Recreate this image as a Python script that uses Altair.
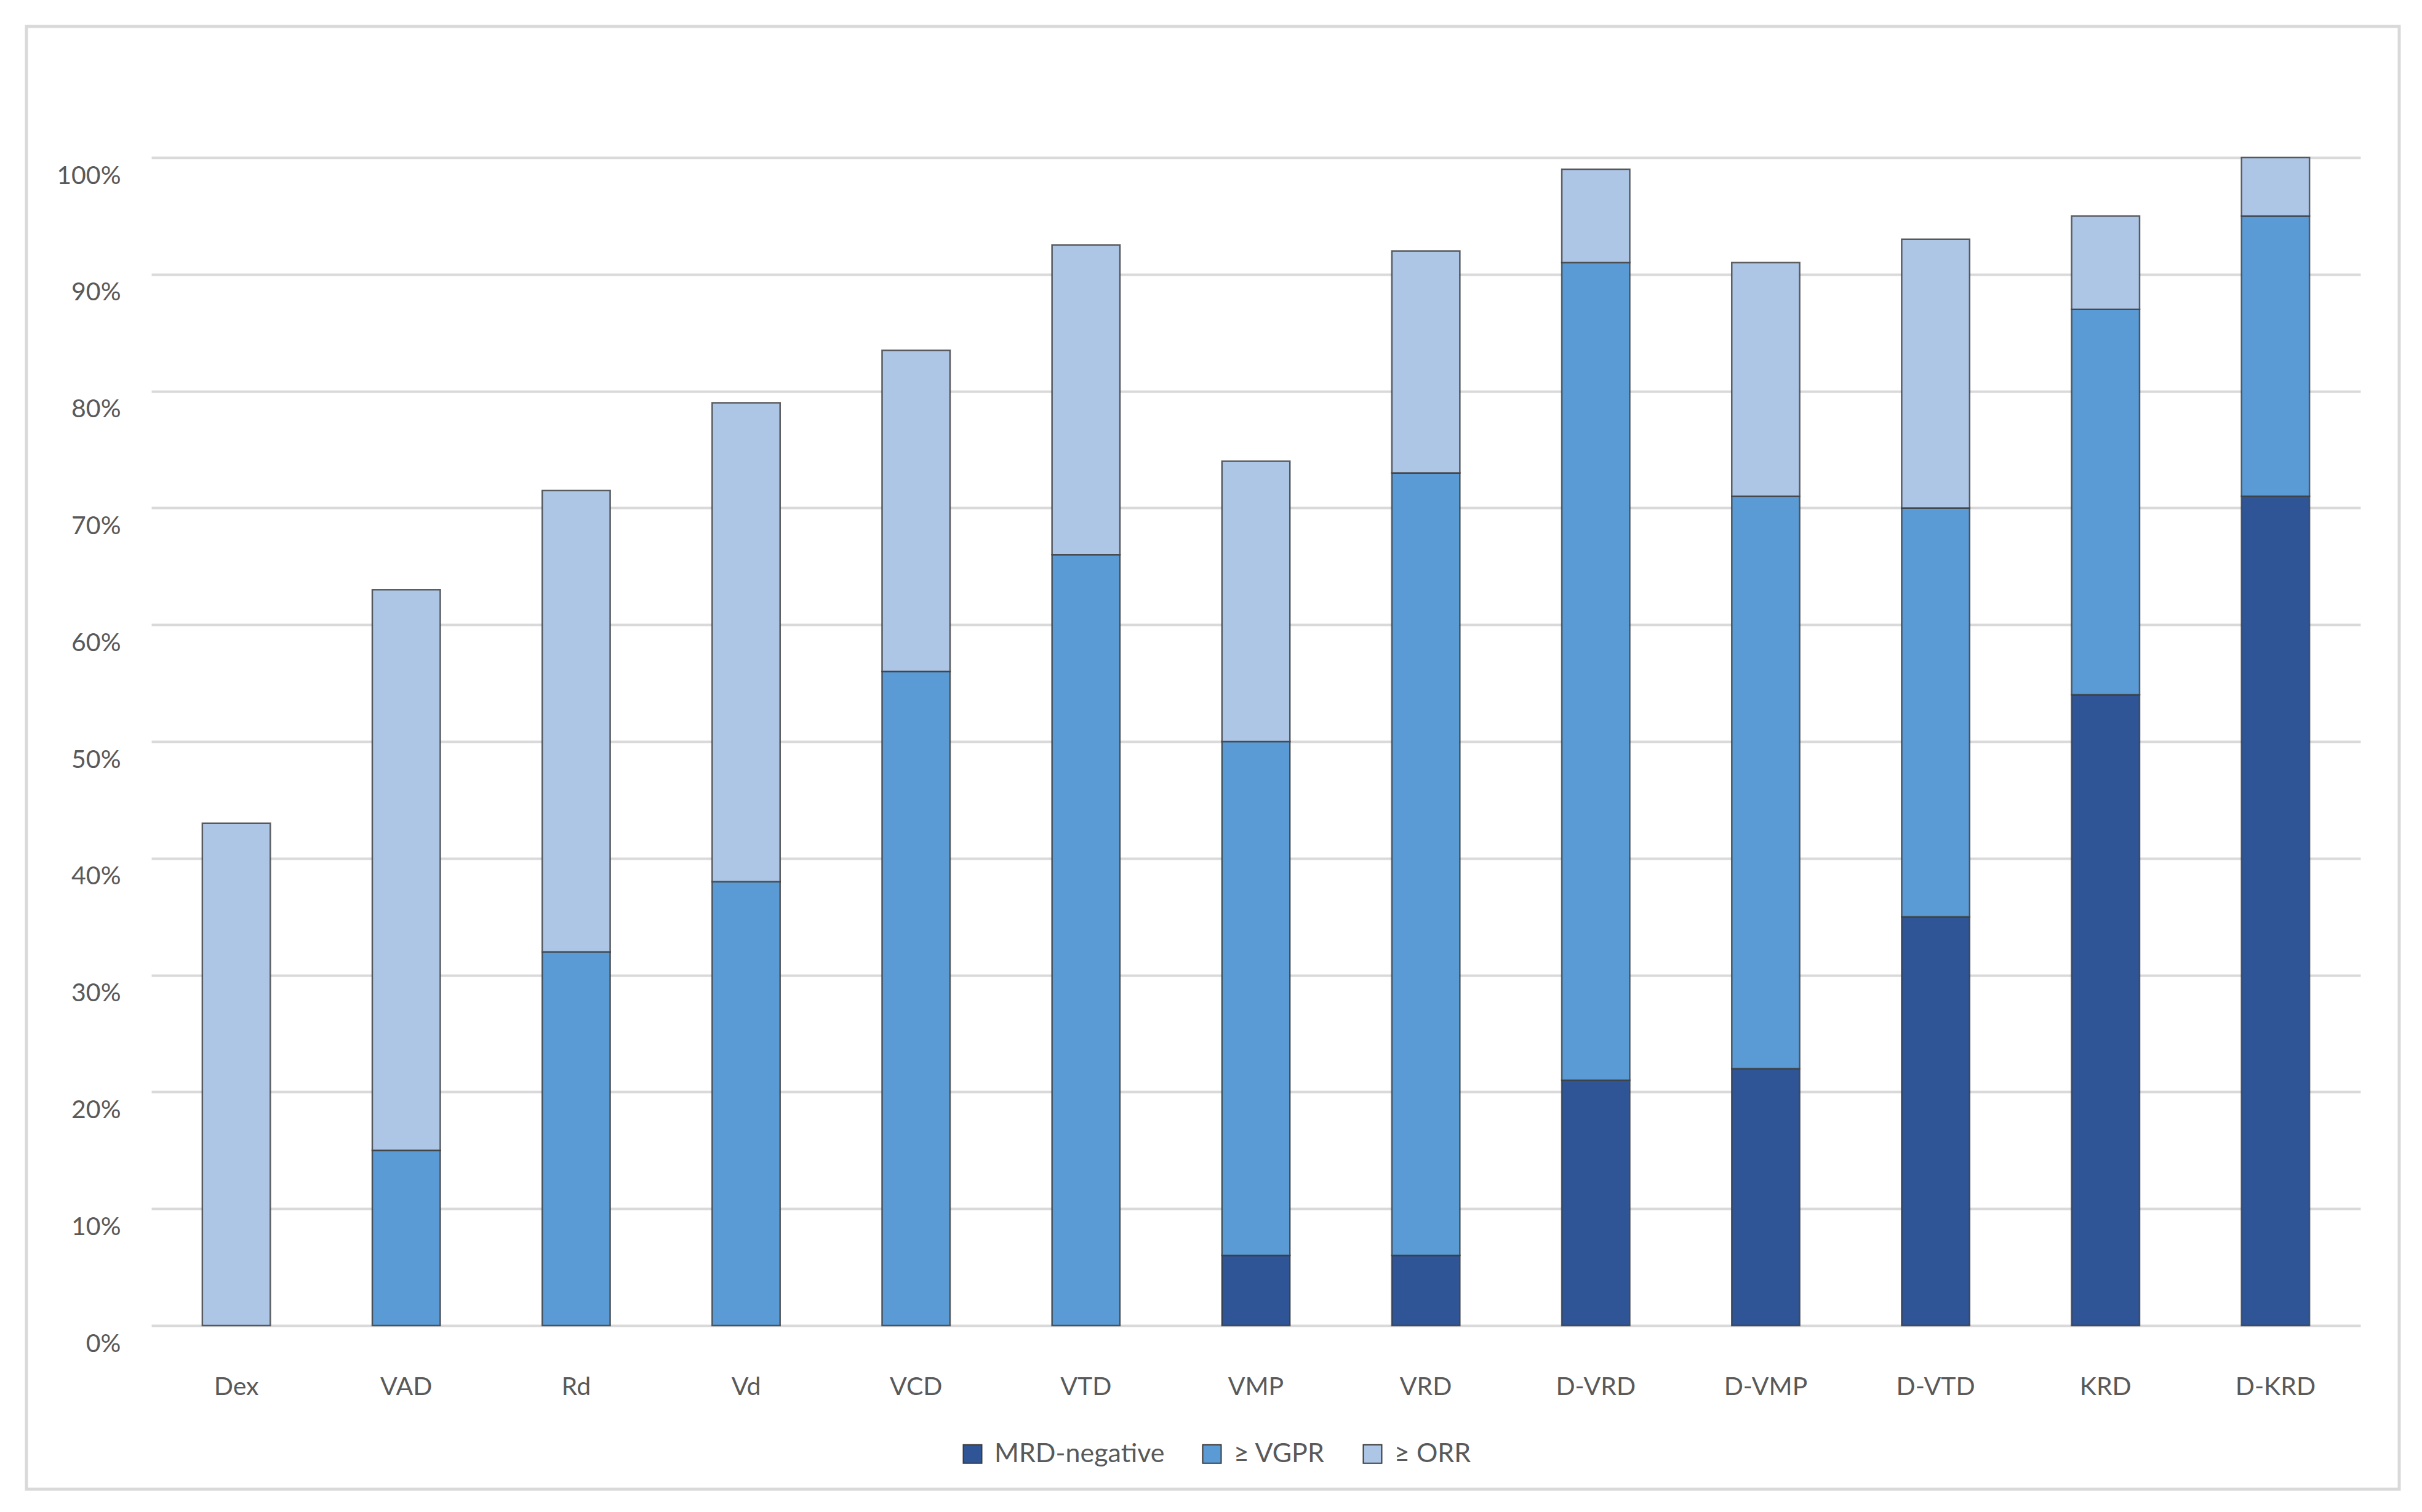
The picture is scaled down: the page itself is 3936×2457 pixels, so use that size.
import altair as alt
import pandas as pd

regimens = ["Dex", "VAD", "Rd", "Vd", "VCD", "VTD", "VMP", "VRD",
            "D-VRD", "D-VMP", "D-VTD", "KRD", "D-KRD"]
# cumulative response rates (%)
mrd_neg = [0, 0, 0, 0, 0, 0, 6, 6, 21, 22, 35, 54, 71]
vgpr = [0, 15, 32, 38, 56, 66, 50, 73, 91, 71, 70, 87, 95]
orr = [43, 63, 71.5, 79, 83.5, 92.5, 74, 92, 99, 91, 93, 95, 100]

series = ["MRD-negative", "\u2265 VGPR", "\u2265 ORR"]
colors = ["#2F5597", "#5B9BD5", "#AEC6E6"]

rows = []
for i, r in enumerate(regimens):
    segs = [mrd_neg[i], vgpr[i] - mrd_neg[i], orr[i] - vgpr[i]]
    for k, s in enumerate(series):
        if segs[k] > 0:
            rows.append({"regimen": r, "series": s, "value": segs[k], "ord": k})
df = pd.DataFrame(rows)

FONT = "Lato"
W, H = 3590, 1898

bars = alt.Chart(df).mark_bar(
    stroke="#3a3a3a", strokeWidth=2.5, strokeOpacity=0.8
).encode(
    x=alt.X("regimen:N", sort=regimens, title=None,
            scale=alt.Scale(paddingInner=0.6, paddingOuter=0.3),
            axis=alt.Axis(labelAngle=0, ticks=False, domain=False,
                          labelPadding=80, labelFontSize=41, labelFont=FONT,
                          labelColor="#595959", grid=False)),
    y=alt.Y("value:Q", stack="zero", title=None,
            scale=alt.Scale(domain=[0, 100], nice=False),
            axis=alt.Axis(values=list(range(0, 101, 10)),
                          labelExpr="datum.value + '%'",
                          ticks=False, domain=False, labelPadding=50,
                          labelFontSize=41, labelFont=FONT, labelColor="#595959",
                          labelOffset=30,
                          gridColor="#d9d9d9", gridWidth=4)),
    color=alt.Color("series:N", title=None,
                    scale=alt.Scale(domain=series, range=colors),
                    legend=alt.Legend(orient="none", direction="horizontal",
                                      legendX=1313, legendY=2085,
                                      symbolType="square", symbolSize=900,
                                      symbolStrokeColor="#3a3a3a",
                                      symbolStrokeWidth=2,
                                      labelFontSize=43, labelFont=FONT,
                                      labelLimit=0,
                                      labelColor="#595959", labelOffset=14,
                                      columnPadding=55)),
    order=alt.Order("ord:Q", sort="ascending"),
)

frame = alt.Chart(pd.DataFrame({"f": [0]})).mark_rect(
    fill=None, stroke="#d9d9d9", strokeWidth=5
).encode(
    x=alt.value(-203), x2=alt.value(3653),
    y=alt.value(-213), y2=alt.value(2164),
)

chart = alt.layer(frame, bars).properties(
    width=W, height=H,
    padding={"left": 32, "top": 32, "right": 20, "bottom": 20},
    background="white",
).configure_view(stroke=None)

chart.save("out.html", embed_options={"renderer": "svg", "actions": False})
